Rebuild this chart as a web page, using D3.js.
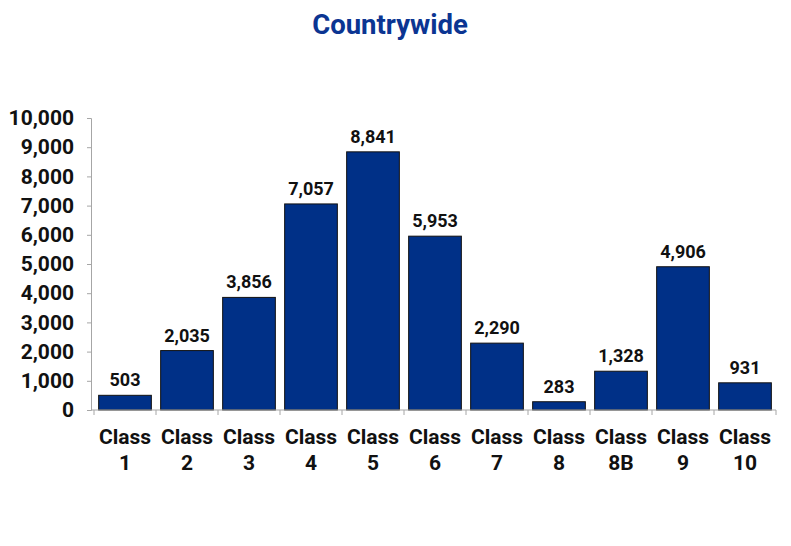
<!DOCTYPE html>
<html><head><meta charset="utf-8">
<script src="https://cdn.jsdelivr.net/npm/d3@7"></script>
<style>body{margin:0;background:#fff;} svg{display:block;font-family:Roboto,"Noto Sans",sans-serif;}</style>
</head><body>
<svg id="c" width="791" height="546"></svg>
<script>
const categories = ["Class 1","Class 2","Class 3","Class 4","Class 5","Class 6","Class 7","Class 8","Class 8B","Class 9","Class 10"];
const values = [503,2035,3856,7057,8841,5953,2290,283,1328,4906,931];
const yTicks = [0,1000,2000,3000,4000,5000,6000,7000,8000,9000,10000];
const title = "Countrywide";

(function(){
const svg = d3.select("#c");
const mLeft = 94, mRight = 776, mTop = 118, mBottom = 410;
const x = d3.scaleBand().domain(categories).range([mLeft, mRight]).paddingInner(0.15).paddingOuter(0.075);
const y = d3.scaleLinear().domain([0, 10000]).range([mBottom, mTop]);
const fmt = d3.format(",");

svg.append("text").attr("x", 390).attr("y", 34).attr("text-anchor","middle")
  .attr("font-size", 27.5).attr("font-weight", 700).attr("fill", "#0b3592").text(title);

const ya = svg.append("g").attr("transform", `translate(${mLeft - 3},0)`)
  .call(d3.axisLeft(y).tickValues(yTicks).tickFormat(fmt).tickSize(4).tickPadding(13));
ya.select(".domain").attr("stroke", "#a6a6a6");
ya.selectAll(".tick line").attr("stroke", "#a6a6a6");
ya.selectAll(".tick text").attr("font-size", 21).attr("font-weight", 700).attr("fill", "#111").attr("font-family","Roboto");

svg.append("g").selectAll("rect").data(values).join("rect")
  .attr("x", (d,i) => x(categories[i]))
  .attr("y", d => y(d))
  .attr("width", x.bandwidth())
  .attr("height", d => mBottom - y(d))
  .attr("fill", "#003087").attr("stroke", "#111").attr("stroke-width", 1);

const xa = svg.append("g").attr("transform", `translate(0,${mBottom})`);
xa.append("line").attr("x1", mLeft - 3).attr("x2", mRight).attr("y1", 0).attr("y2", 0).attr("stroke", "#a6a6a6");
const bounds = d3.range(categories.length + 1).map(i => mLeft + i * (mRight - mLeft) / categories.length);
xa.selectAll("line.t").data(bounds).join("line").attr("class","t")
  .attr("x1", d => d).attr("x2", d => d).attr("y1", 0).attr("y2", 5).attr("stroke", "#a6a6a6");

const lab = svg.append("g").selectAll("text").data(categories).join("text")
  .attr("text-anchor","middle").attr("font-size", 21).attr("font-weight", 700).attr("fill","#111")
  .attr("transform", d => `translate(${x(d) + x.bandwidth()/2},0)`);
lab.each(function(d){
  const parts = d.split(" ");
  const t = d3.select(this);
  t.append("tspan").attr("x",0).attr("y",444).text(parts[0]);
  t.append("tspan").attr("x",0).attr("y",470).text(parts[1]);
});

svg.append("g").selectAll("text").data(values).join("text")
  .attr("x", (d,i) => x(categories[i]) + x.bandwidth()/2)
  .attr("y", d => y(d) - 9)
  .attr("text-anchor","middle").attr("font-size", 18).attr("font-weight", 700).attr("fill","#111")
  .text(d => fmt(d));
})();
</script>
</body></html>
